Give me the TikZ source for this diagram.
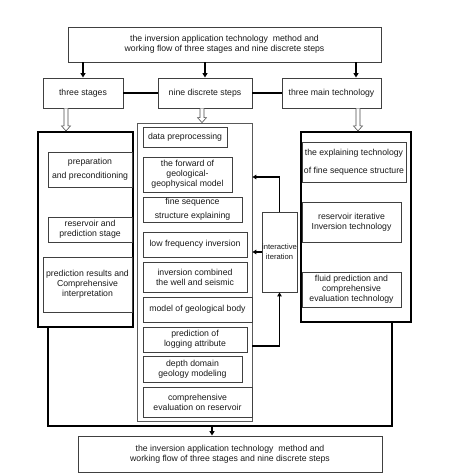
\documentclass[tikz,border=0pt]{standalone}
\usepackage{fontspec}
\setmainfont{Liberation Sans}
\usetikzlibrary{arrows.meta,calc}
\newcommand{\fs}{\fontsize{8.7}{10}\selectfont}
\newcommand{\harrow}[2]{\draw[harrowsty] ($(#1)+(-2,0)$) -- ($(#2)+(-2,-5)$) -- ($(#2)+(-4.5,-5)$) -- (#2) -- ($(#2)+(4.5,-5)$) -- ($(#2)+(2,-5)$) -- ($(#1)+(2,0)$);}
\tikzset{
  box/.style={draw=black!75, line width=0.9pt, inner sep=0pt, align=center, font=\fs, text=black!90},
  bigbox/.style={draw=black, line width=2.2pt, inner sep=0pt},
  outerbox/.style={draw=black!65, line width=0.8pt, inner sep=0pt},
  harrowsty/.style={draw=black!70, line width=0.6pt, fill=white},
  toparrow/.style={draw=black, line width=1.6pt, -{Triangle[length=4.5pt,width=5pt]}},
  iterarrow/.style={draw=black, line width=1.3pt, -{Triangle[length=4pt,width=4.5pt]}},
  joinline/.style={draw=black, line width=1.5pt},
  bottomline/.style={draw=black, line width=2pt},
}
\begin{document}
\begin{tikzpicture}[x=1pt,y=-1pt]
\useasboundingbox (0,0) rectangle (474,474);
% top
\node[box, minimum width=313pt, minimum height=35pt] (top) at (224.5,44.5) {the inversion application technology\ \ method and\\working flow of three stages and nine discrete steps};
\node[box, minimum width=80pt, minimum height=30pt] (stages) at (83,93) {three stages};
\node[box, minimum width=94pt, minimum height=30pt] (nine) at (205,93) {nine discrete steps};
\node[box, minimum width=99pt, minimum height=30pt] (tech) at (331.5,93) {three main technology};
\coordinate (ta) at (356,0);
\draw[toparrow] (top.south -| stages) -- (stages.north);
\draw[toparrow] (top.south -| nine) -- (nine.north);
\draw[toparrow] (top.south -| ta) -- (tech.north -| ta);
\draw[joinline] (stages.east) -- (nine.west);
\draw[joinline] (nine.east) -- (tech.west);
% big boxes
\node[bigbox, minimum width=95pt, minimum height=195pt] (L) at (85.5,229.5) {};
\node[outerbox, minimum width=115pt, minimum height=298pt] (M) at (194.5,272) {};
\node[bigbox, minimum width=110pt, minimum height=190pt] (R) at (356,227) {};
% hollow arrows
\coordinate (ha1) at (66,0);
\coordinate (ha2) at (202,0);
\coordinate (ha3) at (358,0);
\harrow{stages.south -| ha1}{L.north -| ha1}
\harrow{nine.south -| ha2}{M.north -| ha2}
\harrow{tech.south -| ha3}{R.north -| ha3}
% left column
\node[box, minimum width=84pt, minimum height=35pt] (L1) at (90,169.5) {preparation\\[4pt]and preconditioning};
\node[box, minimum width=84pt, minimum height=25pt] (L2) at (90,229.5) {reservoir and\\prediction stage};
\node[box, minimum width=89pt, minimum height=55pt] (L3) at (87.5,284.5) {prediction results and\\Comprehensive\\interpretation};
% middle column
\node[box, minimum width=84pt, minimum height=20pt] (m1) at (185,137) {data preprocessing};
\node[box, minimum width=89pt, minimum height=35pt] (m2) at (187.5,174.5) {the forward of\\geological-\\geophysical model};
\node[box, minimum width=99pt, minimum height=25pt] (m3) at (192.5,209.5) {fine sequence\\[4pt]structure explaining};
\node[box, minimum width=104pt, minimum height=25pt] (m4) at (195,244.5) {low frequency inversion};
\node[box, minimum width=104pt, minimum height=30pt] (m5) at (195,277) {inversion combined\\the well and seismic};
\node[box, minimum width=109pt, minimum height=25pt] (m6) at (197.5,309.5) {model of geological body};
\node[box, minimum width=104pt, minimum height=25pt] (m7) at (195,339.5) {prediction of\\logging attribute};
\node[box, minimum width=99pt, minimum height=26pt] (m8) at (192.5,369) {depth domain\\geology modeling};
\node[box, minimum width=109pt, minimum height=30pt] (m9) at (197.5,402) {comprehensive\\evaluation on reservoir};
% interactive iteration
\node[box, minimum width=35pt, minimum height=80pt, font=\fontsize{7.6}{9.5}\selectfont] (I) at (279.5,252) {interactive\\iteration};
\coordinate (it1) at (0,177);
\coordinate (it3) at (0,346);
\draw[iterarrow] (I.north) |- (M.east |- it1);
\draw[iterarrow] (I.west) -- (M.east |- I.west);
\draw[iterarrow] (M.east |- it3) -| (I.south);
% right column
\node[box, minimum width=104pt, minimum height=40pt] (r1) at (354,162) {the explaining technology\\[8pt]of fine sequence structure};
\node[box, minimum width=99pt, minimum height=40pt] (r2) at (351.5,222) {reservoir iterative\\Inversion technology};
\node[box, minimum width=99pt, minimum height=35pt] (r3) at (351.5,289.5) {fluid prediction and\\comprehensive\\evaluation technology};
% bottom
\node[box, minimum width=304pt, minimum height=36pt] (B) at (230,454) {the inversion application technology\ \ method and\\working flow of three stages and nine discrete steps};
\coordinate (bl) at (48,426);
\coordinate (br) at (392,426);
\coordinate (bm) at (212,426);
\draw[bottomline] (L.south -| bl) -- (bl) -- (br) -- (R.south -| br);
\draw[toparrow] (bm) -- (B.north -| bm);
\end{tikzpicture}
\end{document}
